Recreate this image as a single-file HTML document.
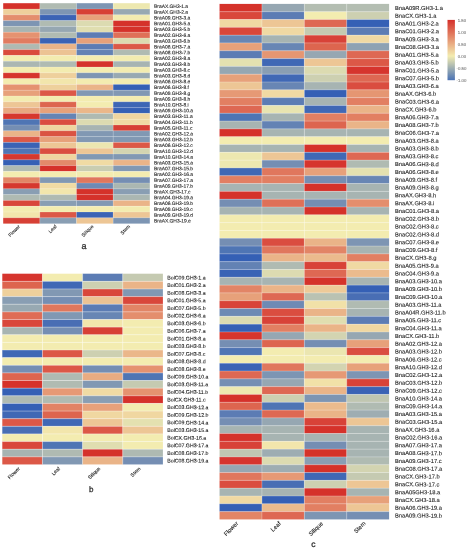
<!DOCTYPE html>
<html><head><meta charset="utf-8"><title>GH3 expression heatmaps</title>
<style>html,body{margin:0;padding:0;background:#fff}svg{display:block;font-family:"Liberation Sans",sans-serif;text-rendering:geometricPrecision}</style>
</head><body>
<svg width="470" height="550" viewBox="0 0 470 550">
<rect width="470" height="550" fill="#fff"/>
<defs><filter id="bl" x="-5%" y="-5%" width="110%" height="110%"><feGaussianBlur stdDeviation="0.35"/></filter></defs>
<g filter="url(#bl)">
<rect x="3.20" y="3.20" width="36.65" height="5.80" fill="#d5302a"/>
<rect x="39.85" y="3.20" width="36.65" height="5.80" fill="#b0bbb2"/>
<rect x="76.50" y="3.20" width="36.65" height="5.80" fill="#7d95b3"/>
<rect x="113.15" y="3.20" width="36.65" height="5.80" fill="#ede8b0"/>
<rect x="3.20" y="9.00" width="36.65" height="5.80" fill="#eed09c"/>
<rect x="39.85" y="9.00" width="36.65" height="5.80" fill="#7d95b3"/>
<rect x="76.50" y="9.00" width="36.65" height="5.80" fill="#d73f35"/>
<rect x="113.15" y="9.00" width="36.65" height="5.80" fill="#98a9b2"/>
<rect x="3.20" y="14.80" width="36.65" height="5.80" fill="#e48e6d"/>
<rect x="39.85" y="14.80" width="36.65" height="5.80" fill="#3b64b5"/>
<rect x="76.50" y="14.80" width="36.65" height="5.80" fill="#e7a17a"/>
<rect x="113.15" y="14.80" width="36.65" height="5.80" fill="#f3ecb0"/>
<rect x="3.20" y="20.60" width="36.65" height="5.80" fill="#7d95b3"/>
<rect x="39.85" y="20.60" width="36.65" height="5.80" fill="#b0bbb2"/>
<rect x="76.50" y="20.60" width="36.65" height="5.80" fill="#dcdbb1"/>
<rect x="113.15" y="20.60" width="36.65" height="5.80" fill="#d5302a"/>
<rect x="3.20" y="26.40" width="36.65" height="5.80" fill="#a7b4b2"/>
<rect x="39.85" y="26.40" width="36.65" height="5.80" fill="#96a7b2"/>
<rect x="76.50" y="26.40" width="36.65" height="5.80" fill="#e0deb0"/>
<rect x="113.15" y="26.40" width="36.65" height="5.80" fill="#d5302a"/>
<rect x="3.20" y="32.20" width="36.65" height="5.80" fill="#e59270"/>
<rect x="39.85" y="32.20" width="36.65" height="5.80" fill="#b0bbb2"/>
<rect x="76.50" y="32.20" width="36.65" height="5.80" fill="#5b7cb4"/>
<rect x="113.15" y="32.20" width="36.65" height="5.80" fill="#df7058"/>
<rect x="3.20" y="38.00" width="36.65" height="5.80" fill="#e17b60"/>
<rect x="39.85" y="38.00" width="36.65" height="5.80" fill="#3b64b5"/>
<rect x="76.50" y="38.00" width="36.65" height="5.80" fill="#e7a17a"/>
<rect x="113.15" y="38.00" width="36.65" height="5.80" fill="#dcdbb1"/>
<rect x="3.20" y="43.80" width="36.65" height="5.80" fill="#afbab2"/>
<rect x="39.85" y="43.80" width="36.65" height="5.80" fill="#eab488"/>
<rect x="76.50" y="43.80" width="36.65" height="5.80" fill="#5b7cb4"/>
<rect x="113.15" y="43.80" width="36.65" height="5.80" fill="#dc5947"/>
<rect x="3.20" y="49.60" width="36.65" height="5.80" fill="#da4c3e"/>
<rect x="39.85" y="49.60" width="36.65" height="5.80" fill="#ecc393"/>
<rect x="76.50" y="49.60" width="36.65" height="5.80" fill="#6382b4"/>
<rect x="113.15" y="49.60" width="36.65" height="5.80" fill="#b0bbb2"/>
<rect x="3.20" y="55.40" width="36.65" height="5.80" fill="#f3ecb0"/>
<rect x="39.85" y="55.40" width="36.65" height="5.80" fill="#f3ecb0"/>
<rect x="76.50" y="55.40" width="36.65" height="5.80" fill="#f3ecb0"/>
<rect x="113.15" y="55.40" width="36.65" height="5.80" fill="#f3ecb0"/>
<rect x="3.20" y="61.20" width="36.65" height="5.80" fill="#abb7b2"/>
<rect x="39.85" y="61.20" width="36.65" height="5.80" fill="#b0bbb2"/>
<rect x="76.50" y="61.20" width="36.65" height="5.80" fill="#d5302a"/>
<rect x="113.15" y="61.20" width="36.65" height="5.80" fill="#a7b4b2"/>
<rect x="3.20" y="67.00" width="36.65" height="5.80" fill="#f3ecb0"/>
<rect x="39.85" y="67.00" width="36.65" height="5.80" fill="#f3ecb0"/>
<rect x="76.50" y="67.00" width="36.65" height="5.80" fill="#f3ecb0"/>
<rect x="113.15" y="67.00" width="36.65" height="5.80" fill="#f3ecb0"/>
<rect x="3.20" y="72.80" width="36.65" height="5.80" fill="#d6342d"/>
<rect x="39.85" y="72.80" width="36.65" height="5.80" fill="#eed09c"/>
<rect x="76.50" y="72.80" width="36.65" height="5.80" fill="#7d95b3"/>
<rect x="113.15" y="72.80" width="36.65" height="5.80" fill="#98a9b2"/>
<rect x="3.20" y="78.60" width="36.65" height="5.80" fill="#f3ecb0"/>
<rect x="39.85" y="78.60" width="36.65" height="5.80" fill="#f2e6ac"/>
<rect x="76.50" y="78.60" width="36.65" height="5.80" fill="#f3ecb0"/>
<rect x="113.15" y="78.60" width="36.65" height="5.80" fill="#f3ecb0"/>
<rect x="3.20" y="84.40" width="36.65" height="5.80" fill="#e59270"/>
<rect x="39.85" y="84.40" width="36.65" height="5.80" fill="#eed09c"/>
<rect x="76.50" y="84.40" width="36.65" height="5.80" fill="#eab488"/>
<rect x="113.15" y="84.40" width="36.65" height="5.80" fill="#3560b5"/>
<rect x="3.20" y="90.20" width="36.65" height="5.80" fill="#e7a17a"/>
<rect x="39.85" y="90.20" width="36.65" height="5.80" fill="#dc5947"/>
<rect x="76.50" y="90.20" width="36.65" height="5.80" fill="#8198b3"/>
<rect x="113.15" y="90.20" width="36.65" height="5.80" fill="#8198b3"/>
<rect x="3.20" y="96.00" width="36.65" height="5.80" fill="#f3ecb0"/>
<rect x="39.85" y="96.00" width="36.65" height="5.80" fill="#f3ecb0"/>
<rect x="76.50" y="96.00" width="36.65" height="5.80" fill="#f3ecb0"/>
<rect x="113.15" y="96.00" width="36.65" height="5.80" fill="#f3ecb0"/>
<rect x="3.20" y="101.80" width="36.65" height="5.80" fill="#edc695"/>
<rect x="39.85" y="101.80" width="36.65" height="5.80" fill="#dd6550"/>
<rect x="76.50" y="101.80" width="36.65" height="5.80" fill="#f3ecb0"/>
<rect x="113.15" y="101.80" width="36.65" height="5.80" fill="#3d66b5"/>
<rect x="3.20" y="107.60" width="36.65" height="5.80" fill="#e8a880"/>
<rect x="39.85" y="107.60" width="36.65" height="5.80" fill="#e7a17a"/>
<rect x="76.50" y="107.60" width="36.65" height="5.80" fill="#ebb78a"/>
<rect x="113.15" y="107.60" width="36.65" height="5.80" fill="#3560b5"/>
<rect x="3.20" y="113.40" width="36.65" height="5.80" fill="#d6382f"/>
<rect x="39.85" y="113.40" width="36.65" height="5.80" fill="#6684b4"/>
<rect x="76.50" y="113.40" width="36.65" height="5.80" fill="#afbab2"/>
<rect x="113.15" y="113.40" width="36.65" height="5.80" fill="#efd5a0"/>
<rect x="3.20" y="119.20" width="36.65" height="5.80" fill="#5074b4"/>
<rect x="39.85" y="119.20" width="36.65" height="5.80" fill="#da4e3f"/>
<rect x="76.50" y="119.20" width="36.65" height="5.80" fill="#dcdbb1"/>
<rect x="113.15" y="119.20" width="36.65" height="5.80" fill="#f0dba4"/>
<rect x="3.20" y="125.00" width="36.65" height="5.80" fill="#748eb3"/>
<rect x="39.85" y="125.00" width="36.65" height="5.80" fill="#efd5a0"/>
<rect x="76.50" y="125.00" width="36.65" height="5.80" fill="#a7b4b2"/>
<rect x="113.15" y="125.00" width="36.65" height="5.80" fill="#d73f35"/>
<rect x="3.20" y="130.80" width="36.65" height="5.80" fill="#eab488"/>
<rect x="39.85" y="130.80" width="36.65" height="5.80" fill="#da5242"/>
<rect x="76.50" y="130.80" width="36.65" height="5.80" fill="#8198b3"/>
<rect x="113.15" y="130.80" width="36.65" height="5.80" fill="#8198b3"/>
<rect x="3.20" y="136.60" width="36.65" height="5.80" fill="#dc5947"/>
<rect x="39.85" y="136.60" width="36.65" height="5.80" fill="#e7a17a"/>
<rect x="76.50" y="136.60" width="36.65" height="5.80" fill="#8198b3"/>
<rect x="113.15" y="136.60" width="36.65" height="5.80" fill="#8198b3"/>
<rect x="3.20" y="142.40" width="36.65" height="5.80" fill="#3b64b5"/>
<rect x="39.85" y="142.40" width="36.65" height="5.80" fill="#edc695"/>
<rect x="76.50" y="142.40" width="36.65" height="5.80" fill="#ebe6b0"/>
<rect x="113.15" y="142.40" width="36.65" height="5.80" fill="#dc5947"/>
<rect x="3.20" y="148.20" width="36.65" height="5.80" fill="#5074b4"/>
<rect x="39.85" y="148.20" width="36.65" height="5.80" fill="#da4e3f"/>
<rect x="76.50" y="148.20" width="36.65" height="5.80" fill="#edc695"/>
<rect x="113.15" y="148.20" width="36.65" height="5.80" fill="#d3d4b1"/>
<rect x="3.20" y="154.00" width="36.65" height="5.80" fill="#d6382f"/>
<rect x="39.85" y="154.00" width="36.65" height="5.80" fill="#efd5a0"/>
<rect x="76.50" y="154.00" width="36.65" height="5.80" fill="#8198b3"/>
<rect x="113.15" y="154.00" width="36.65" height="5.80" fill="#8198b3"/>
<rect x="3.20" y="159.80" width="36.65" height="5.80" fill="#3560b5"/>
<rect x="39.85" y="159.80" width="36.65" height="5.80" fill="#e38a6a"/>
<rect x="76.50" y="159.80" width="36.65" height="5.80" fill="#f0dba4"/>
<rect x="113.15" y="159.80" width="36.65" height="5.80" fill="#eab488"/>
<rect x="3.20" y="165.60" width="36.65" height="5.80" fill="#afbab2"/>
<rect x="39.85" y="165.60" width="36.65" height="5.80" fill="#d5302a"/>
<rect x="76.50" y="165.60" width="36.65" height="5.80" fill="#c9cdb1"/>
<rect x="113.15" y="165.60" width="36.65" height="5.80" fill="#8198b3"/>
<rect x="3.20" y="171.40" width="36.65" height="5.80" fill="#f3ecb0"/>
<rect x="39.85" y="171.40" width="36.65" height="5.80" fill="#f3ecb0"/>
<rect x="76.50" y="171.40" width="36.65" height="5.80" fill="#f3ecb0"/>
<rect x="113.15" y="171.40" width="36.65" height="5.80" fill="#f3ecb0"/>
<rect x="3.20" y="177.20" width="36.65" height="5.80" fill="#e28566"/>
<rect x="39.85" y="177.20" width="36.65" height="5.80" fill="#8198b3"/>
<rect x="76.50" y="177.20" width="36.65" height="5.80" fill="#e0775d"/>
<rect x="113.15" y="177.20" width="36.65" height="5.80" fill="#748eb3"/>
<rect x="3.20" y="183.00" width="36.65" height="5.80" fill="#d6382f"/>
<rect x="39.85" y="183.00" width="36.65" height="5.80" fill="#f0dba4"/>
<rect x="76.50" y="183.00" width="36.65" height="5.80" fill="#6e8ab4"/>
<rect x="113.15" y="183.00" width="36.65" height="5.80" fill="#abb7b2"/>
<rect x="3.20" y="188.80" width="36.65" height="5.80" fill="#899eb3"/>
<rect x="39.85" y="188.80" width="36.65" height="5.80" fill="#f2e6ac"/>
<rect x="76.50" y="188.80" width="36.65" height="5.80" fill="#d5302a"/>
<rect x="113.15" y="188.80" width="36.65" height="5.80" fill="#899eb3"/>
<rect x="3.20" y="194.60" width="36.65" height="5.80" fill="#afbab2"/>
<rect x="39.85" y="194.60" width="36.65" height="5.80" fill="#afbab2"/>
<rect x="76.50" y="194.60" width="36.65" height="5.80" fill="#d5302a"/>
<rect x="113.15" y="194.60" width="36.65" height="5.80" fill="#abb7b2"/>
<rect x="3.20" y="200.40" width="36.65" height="5.80" fill="#d9473a"/>
<rect x="39.85" y="200.40" width="36.65" height="5.80" fill="#899eb3"/>
<rect x="76.50" y="200.40" width="36.65" height="5.80" fill="#8198b3"/>
<rect x="113.15" y="200.40" width="36.65" height="5.80" fill="#eab488"/>
<rect x="3.20" y="206.20" width="36.65" height="5.80" fill="#f3ecb0"/>
<rect x="39.85" y="206.20" width="36.65" height="5.80" fill="#f3ecb0"/>
<rect x="76.50" y="206.20" width="36.65" height="5.80" fill="#f3ecb0"/>
<rect x="113.15" y="206.20" width="36.65" height="5.80" fill="#f3ecb0"/>
<rect x="3.20" y="212.00" width="36.65" height="5.80" fill="#f2e6ac"/>
<rect x="39.85" y="212.00" width="36.65" height="5.80" fill="#dc5947"/>
<rect x="76.50" y="212.00" width="36.65" height="5.80" fill="#3b64b5"/>
<rect x="113.15" y="212.00" width="36.65" height="5.80" fill="#edc695"/>
<rect x="3.20" y="217.80" width="36.65" height="5.80" fill="#d73f35"/>
<rect x="39.85" y="217.80" width="36.65" height="5.80" fill="#899eb3"/>
<rect x="76.50" y="217.80" width="36.65" height="5.80" fill="#edc695"/>
<rect x="113.15" y="217.80" width="36.65" height="5.80" fill="#7d95b3"/>
<path d="M3.20 9.00h146.60M3.20 14.80h146.60M3.20 20.60h146.60M3.20 26.40h146.60M3.20 32.20h146.60M3.20 38.00h146.60M3.20 43.80h146.60M3.20 49.60h146.60M3.20 55.40h146.60M3.20 61.20h146.60M3.20 67.00h146.60M3.20 72.80h146.60M3.20 78.60h146.60M3.20 84.40h146.60M3.20 90.20h146.60M3.20 96.00h146.60M3.20 101.80h146.60M3.20 107.60h146.60M3.20 113.40h146.60M3.20 119.20h146.60M3.20 125.00h146.60M3.20 130.80h146.60M3.20 136.60h146.60M3.20 142.40h146.60M3.20 148.20h146.60M3.20 154.00h146.60M3.20 159.80h146.60M3.20 165.60h146.60M3.20 171.40h146.60M3.20 177.20h146.60M3.20 183.00h146.60M3.20 188.80h146.60M3.20 194.60h146.60M3.20 200.40h146.60M3.20 206.20h146.60M3.20 212.00h146.60M3.20 217.80h146.60M39.85 3.20v220.40M76.50 3.20v220.40M113.15 3.20v220.40" stroke="#fff" stroke-opacity="0.35" stroke-width="0.5" fill="none"/>
<g font-size="4.92" fill="#1c1c1c" stroke="#1c1c1c" stroke-width="0.1">
<text transform="translate(154.00 7.87) rotate(0.06)">BraAX.GH3-1.a</text>
<text transform="translate(154.00 13.67) rotate(0.06)">BraAX.GH3-2.a</text>
<text transform="translate(154.00 19.47) rotate(0.06)">BraA09.GH3-3.a</text>
<text transform="translate(154.00 25.27) rotate(0.06)">BraA01.GH3-5.a</text>
<text transform="translate(154.00 31.07) rotate(0.06)">BraA03.GH3-5.b</text>
<text transform="translate(154.00 36.87) rotate(0.06)">BraA02.GH3-6.a</text>
<text transform="translate(154.00 42.67) rotate(0.06)">BraA03.GH3-6.b</text>
<text transform="translate(154.00 48.47) rotate(0.06)">BraA06.GH3-7.a</text>
<text transform="translate(154.00 54.27) rotate(0.06)">BraA08.GH3-7.b</text>
<text transform="translate(154.00 60.07) rotate(0.06)">BraA02.GH3-8.a</text>
<text transform="translate(154.00 65.87) rotate(0.06)">BraA03.GH3-8.b</text>
<text transform="translate(154.00 71.67) rotate(0.06)">BraA03.GH3-8.c</text>
<text transform="translate(154.00 77.47) rotate(0.06)">BraA03.GH3-8.d</text>
<text transform="translate(154.00 83.27) rotate(0.06)">BraA06.GH3-8.e</text>
<text transform="translate(154.00 89.07) rotate(0.06)">BraA06.GH3-8.f</text>
<text transform="translate(154.00 94.87) rotate(0.06)">BraA09.GH3-8.g</text>
<text transform="translate(154.00 100.67) rotate(0.06)">BraA09.GH3-8.h</text>
<text transform="translate(154.00 106.47) rotate(0.06)">BraA10.GH3-8.i</text>
<text transform="translate(154.00 112.27) rotate(0.06)">BraA09.GH3-10.a</text>
<text transform="translate(154.00 118.07) rotate(0.06)">BraA03.GH3-11.a</text>
<text transform="translate(154.00 123.87) rotate(0.06)">BraA04.GH3-11.b</text>
<text transform="translate(154.00 129.67) rotate(0.06)">BraA05.GH3-11.c</text>
<text transform="translate(154.00 135.47) rotate(0.06)">BraA02.GH3-12.a</text>
<text transform="translate(154.00 141.27) rotate(0.06)">BraA03.GH3-12.b</text>
<text transform="translate(154.00 147.07) rotate(0.06)">BraA06.GH3-12.c</text>
<text transform="translate(154.00 152.87) rotate(0.06)">BraA10.GH3-12.d</text>
<text transform="translate(154.00 158.67) rotate(0.06)">BraA10.GH3-14.a</text>
<text transform="translate(154.00 164.47) rotate(0.06)">BraA03.GH3-15.a</text>
<text transform="translate(154.00 170.27) rotate(0.06)">BraA07.GH3-15.b</text>
<text transform="translate(154.00 176.07) rotate(0.06)">BraA02.GH3-16.a</text>
<text transform="translate(154.00 181.87) rotate(0.06)">BraA07.GH3-17.a</text>
<text transform="translate(154.00 187.67) rotate(0.06)">BraA09.GH3-17.b</text>
<text transform="translate(154.00 193.47) rotate(0.06)">BraAX.GH3-17.c</text>
<text transform="translate(154.00 199.27) rotate(0.06)">BraA04.GH3-19.a</text>
<text transform="translate(154.00 205.07) rotate(0.06)">BraA06.GH3-19.b</text>
<text transform="translate(154.00 210.87) rotate(0.06)">BraA09.GH3-19.c</text>
<text transform="translate(154.00 216.67) rotate(0.06)">BraA09.GH3-19.d</text>
<text transform="translate(154.00 222.47) rotate(0.06)">BraAX.GH3-19.e</text>
</g>
<g font-size="4.90" fill="#1c1c1c" stroke="#1c1c1c" stroke-width="0.1" text-anchor="end">
<text transform="translate(20.52 226.80) rotate(-45)">Flower</text>
<text transform="translate(57.17 226.80) rotate(-45)">Leaf</text>
<text transform="translate(93.83 226.80) rotate(-45)">Silique</text>
<text transform="translate(130.47 226.80) rotate(-45)">Stem</text>
</g>
<text x="84.00" y="249.10" font-size="9.0" fill="#333" stroke="#333" stroke-width="0.3" text-anchor="middle">a</text>
<rect x="2.30" y="273.70" width="40.15" height="7.63" fill="#d6342d"/>
<rect x="42.45" y="273.70" width="40.15" height="7.63" fill="#f3ecb0"/>
<rect x="82.60" y="273.70" width="40.15" height="7.63" fill="#5b7cb4"/>
<rect x="122.75" y="273.70" width="40.15" height="7.63" fill="#c5cab1"/>
<rect x="2.30" y="281.33" width="40.15" height="7.63" fill="#dd6550"/>
<rect x="42.45" y="281.33" width="40.15" height="7.63" fill="#4068b5"/>
<rect x="82.60" y="281.33" width="40.15" height="7.63" fill="#cdd0b1"/>
<rect x="122.75" y="281.33" width="40.15" height="7.63" fill="#eab488"/>
<rect x="2.30" y="288.96" width="40.15" height="7.63" fill="#eed09c"/>
<rect x="42.45" y="288.96" width="40.15" height="7.63" fill="#8198b3"/>
<rect x="82.60" y="288.96" width="40.15" height="7.63" fill="#d9473a"/>
<rect x="122.75" y="288.96" width="40.15" height="7.63" fill="#8198b3"/>
<rect x="2.30" y="296.59" width="40.15" height="7.63" fill="#899eb3"/>
<rect x="42.45" y="296.59" width="40.15" height="7.63" fill="#748eb3"/>
<rect x="82.60" y="296.59" width="40.15" height="7.63" fill="#ecc393"/>
<rect x="122.75" y="296.59" width="40.15" height="7.63" fill="#d9473a"/>
<rect x="2.30" y="304.22" width="40.15" height="7.63" fill="#98a9b2"/>
<rect x="42.45" y="304.22" width="40.15" height="7.63" fill="#e0775d"/>
<rect x="82.60" y="304.22" width="40.15" height="7.63" fill="#5b7cb4"/>
<rect x="122.75" y="304.22" width="40.15" height="7.63" fill="#e28566"/>
<rect x="2.30" y="311.85" width="40.15" height="7.63" fill="#df6c55"/>
<rect x="42.45" y="311.85" width="40.15" height="7.63" fill="#8198b3"/>
<rect x="82.60" y="311.85" width="40.15" height="7.63" fill="#6886b4"/>
<rect x="122.75" y="311.85" width="40.15" height="7.63" fill="#e48e6d"/>
<rect x="2.30" y="319.48" width="40.15" height="7.63" fill="#d9473a"/>
<rect x="42.45" y="319.48" width="40.15" height="7.63" fill="#486eb4"/>
<rect x="82.60" y="319.48" width="40.15" height="7.63" fill="#f2e6ac"/>
<rect x="122.75" y="319.48" width="40.15" height="7.63" fill="#f3ecb0"/>
<rect x="2.30" y="327.11" width="40.15" height="7.63" fill="#a7b4b2"/>
<rect x="42.45" y="327.11" width="40.15" height="7.63" fill="#748eb3"/>
<rect x="82.60" y="327.11" width="40.15" height="7.63" fill="#d73f35"/>
<rect x="122.75" y="327.11" width="40.15" height="7.63" fill="#f3ecb0"/>
<rect x="2.30" y="334.74" width="40.15" height="7.63" fill="#f3ecb0"/>
<rect x="42.45" y="334.74" width="40.15" height="7.63" fill="#f3ecb0"/>
<rect x="82.60" y="334.74" width="40.15" height="7.63" fill="#f3ecb0"/>
<rect x="122.75" y="334.74" width="40.15" height="7.63" fill="#f3ecb0"/>
<rect x="2.30" y="342.37" width="40.15" height="7.63" fill="#f3ecb0"/>
<rect x="42.45" y="342.37" width="40.15" height="7.63" fill="#f3ecb0"/>
<rect x="82.60" y="342.37" width="40.15" height="7.63" fill="#f3ecb0"/>
<rect x="122.75" y="342.37" width="40.15" height="7.63" fill="#f3ecb0"/>
<rect x="2.30" y="350.00" width="40.15" height="7.63" fill="#4068b5"/>
<rect x="42.45" y="350.00" width="40.15" height="7.63" fill="#dc5947"/>
<rect x="82.60" y="350.00" width="40.15" height="7.63" fill="#cdd0b1"/>
<rect x="122.75" y="350.00" width="40.15" height="7.63" fill="#ebb78a"/>
<rect x="2.30" y="357.63" width="40.15" height="7.63" fill="#f3ecb0"/>
<rect x="42.45" y="357.63" width="40.15" height="7.63" fill="#f3ecb0"/>
<rect x="82.60" y="357.63" width="40.15" height="7.63" fill="#f3ecb0"/>
<rect x="122.75" y="357.63" width="40.15" height="7.63" fill="#f3ecb0"/>
<rect x="2.30" y="365.26" width="40.15" height="7.63" fill="#748eb3"/>
<rect x="42.45" y="365.26" width="40.15" height="7.63" fill="#dc5947"/>
<rect x="82.60" y="365.26" width="40.15" height="7.63" fill="#748eb3"/>
<rect x="122.75" y="365.26" width="40.15" height="7.63" fill="#e59270"/>
<rect x="2.30" y="372.89" width="40.15" height="7.63" fill="#dd6550"/>
<rect x="42.45" y="372.89" width="40.15" height="7.63" fill="#afbab2"/>
<rect x="82.60" y="372.89" width="40.15" height="7.63" fill="#e9ac82"/>
<rect x="122.75" y="372.89" width="40.15" height="7.63" fill="#5074b4"/>
<rect x="2.30" y="380.52" width="40.15" height="7.63" fill="#d5302a"/>
<rect x="42.45" y="380.52" width="40.15" height="7.63" fill="#b0bbb2"/>
<rect x="82.60" y="380.52" width="40.15" height="7.63" fill="#8198b3"/>
<rect x="122.75" y="380.52" width="40.15" height="7.63" fill="#c5cab1"/>
<rect x="2.30" y="388.15" width="40.15" height="7.63" fill="#3560b5"/>
<rect x="42.45" y="388.15" width="40.15" height="7.63" fill="#e69975"/>
<rect x="82.60" y="388.15" width="40.15" height="7.63" fill="#f0dba4"/>
<rect x="122.75" y="388.15" width="40.15" height="7.63" fill="#e59270"/>
<rect x="2.30" y="395.78" width="40.15" height="7.63" fill="#b0bbb2"/>
<rect x="42.45" y="395.78" width="40.15" height="7.63" fill="#b0bbb2"/>
<rect x="82.60" y="395.78" width="40.15" height="7.63" fill="#899eb3"/>
<rect x="122.75" y="395.78" width="40.15" height="7.63" fill="#d5302a"/>
<rect x="2.30" y="403.41" width="40.15" height="7.63" fill="#3560b5"/>
<rect x="42.45" y="403.41" width="40.15" height="7.63" fill="#e28365"/>
<rect x="82.60" y="403.41" width="40.15" height="7.63" fill="#e7a17a"/>
<rect x="122.75" y="403.41" width="40.15" height="7.63" fill="#f3ecb0"/>
<rect x="2.30" y="411.04" width="40.15" height="7.63" fill="#4068b5"/>
<rect x="42.45" y="411.04" width="40.15" height="7.63" fill="#dd6550"/>
<rect x="82.60" y="411.04" width="40.15" height="7.63" fill="#f0d7a1"/>
<rect x="122.75" y="411.04" width="40.15" height="7.63" fill="#f0d7a1"/>
<rect x="2.30" y="418.67" width="40.15" height="7.63" fill="#dc5947"/>
<rect x="42.45" y="418.67" width="40.15" height="7.63" fill="#4068b5"/>
<rect x="82.60" y="418.67" width="40.15" height="7.63" fill="#edc695"/>
<rect x="122.75" y="418.67" width="40.15" height="7.63" fill="#e4e1b0"/>
<rect x="2.30" y="426.30" width="40.15" height="7.63" fill="#486eb4"/>
<rect x="42.45" y="426.30" width="40.15" height="7.63" fill="#f2e6ac"/>
<rect x="82.60" y="426.30" width="40.15" height="7.63" fill="#dc5947"/>
<rect x="122.75" y="426.30" width="40.15" height="7.63" fill="#edc695"/>
<rect x="2.30" y="433.93" width="40.15" height="7.63" fill="#f3ecb0"/>
<rect x="42.45" y="433.93" width="40.15" height="7.63" fill="#f3ecb0"/>
<rect x="82.60" y="433.93" width="40.15" height="7.63" fill="#f3ecb0"/>
<rect x="122.75" y="433.93" width="40.15" height="7.63" fill="#f3ecb0"/>
<rect x="2.30" y="441.56" width="40.15" height="7.63" fill="#d9473a"/>
<rect x="42.45" y="441.56" width="40.15" height="7.63" fill="#5074b4"/>
<rect x="82.60" y="441.56" width="40.15" height="7.63" fill="#e0deb0"/>
<rect x="122.75" y="441.56" width="40.15" height="7.63" fill="#f3ecb0"/>
<rect x="2.30" y="449.19" width="40.15" height="7.63" fill="#a7b4b2"/>
<rect x="42.45" y="449.19" width="40.15" height="7.63" fill="#afbab2"/>
<rect x="82.60" y="449.19" width="40.15" height="7.63" fill="#d5302a"/>
<rect x="122.75" y="449.19" width="40.15" height="7.63" fill="#afbab2"/>
<rect x="2.30" y="456.82" width="40.15" height="7.63" fill="#dc5947"/>
<rect x="42.45" y="456.82" width="40.15" height="7.63" fill="#8198b3"/>
<rect x="82.60" y="456.82" width="40.15" height="7.63" fill="#eab488"/>
<rect x="122.75" y="456.82" width="40.15" height="7.63" fill="#748eb3"/>
<path d="M2.30 281.33h160.60M2.30 288.96h160.60M2.30 296.59h160.60M2.30 304.22h160.60M2.30 311.85h160.60M2.30 319.48h160.60M2.30 327.11h160.60M2.30 334.74h160.60M2.30 342.37h160.60M2.30 350.00h160.60M2.30 357.63h160.60M2.30 365.26h160.60M2.30 372.89h160.60M2.30 380.52h160.60M2.30 388.15h160.60M2.30 395.78h160.60M2.30 403.41h160.60M2.30 411.04h160.60M2.30 418.67h160.60M2.30 426.30h160.60M2.30 433.93h160.60M2.30 441.56h160.60M2.30 449.19h160.60M2.30 456.82h160.60M42.45 273.70v190.75M82.60 273.70v190.75M122.75 273.70v190.75" stroke="#fff" stroke-opacity="0.70" stroke-width="0.5" fill="none"/>
<g font-size="5.22" fill="#1c1c1c" stroke="#1c1c1c" stroke-width="0.1">
<text transform="translate(167.30 279.39) rotate(0.06)">BolC09.GH3-1.a</text>
<text transform="translate(167.30 287.02) rotate(0.06)">BolC01.GH3-2.a</text>
<text transform="translate(167.30 294.65) rotate(0.06)">BolC08.GH3-3.a</text>
<text transform="translate(167.30 302.28) rotate(0.06)">BolC01.GH3-5.a</text>
<text transform="translate(167.30 309.91) rotate(0.06)">BolC07.GH3-5.b</text>
<text transform="translate(167.30 317.54) rotate(0.06)">BolC02.GH3-6.a</text>
<text transform="translate(167.30 325.17) rotate(0.06)">BolC03.GH3-6.b</text>
<text transform="translate(167.30 332.80) rotate(0.06)">BolC06.GH3-7.a</text>
<text transform="translate(167.30 340.43) rotate(0.06)">BolC01.GH3-8.a</text>
<text transform="translate(167.30 348.06) rotate(0.06)">BolC03.GH3-8.b</text>
<text transform="translate(167.30 355.69) rotate(0.06)">BolC07.GH3-8.c</text>
<text transform="translate(167.30 363.32) rotate(0.06)">BolC08.GH3-8.d</text>
<text transform="translate(167.30 370.95) rotate(0.06)">BolC08.GH3-8.e</text>
<text transform="translate(167.30 378.58) rotate(0.06)">BolC09.GH3-10.a</text>
<text transform="translate(167.30 386.21) rotate(0.06)">BolC03.GH3-11.a</text>
<text transform="translate(167.30 393.84) rotate(0.06)">BolC04.GH3-11.b</text>
<text transform="translate(167.30 401.47) rotate(0.06)">BolCX.GH3-11.c</text>
<text transform="translate(167.30 409.10) rotate(0.06)">BolC03.GH3-12.a</text>
<text transform="translate(167.30 416.73) rotate(0.06)">BolC09.GH3-12.b</text>
<text transform="translate(167.30 424.36) rotate(0.06)">BolC09.GH3-14.a</text>
<text transform="translate(167.30 431.99) rotate(0.06)">BolC03.GH3-15.a</text>
<text transform="translate(167.30 439.62) rotate(0.06)">BolCX.GH3-16.a</text>
<text transform="translate(167.30 447.25) rotate(0.06)">BolC07.GH3-17.a</text>
<text transform="translate(167.30 454.88) rotate(0.06)">BolC08.GH3-17.b</text>
<text transform="translate(167.30 462.51) rotate(0.06)">BolC08.GH3-19.a</text>
</g>
<g font-size="5.00" fill="#1c1c1c" stroke="#1c1c1c" stroke-width="0.1" text-anchor="end">
<text transform="translate(20.38 468.95) rotate(-45)">Flower</text>
<text transform="translate(60.52 468.95) rotate(-45)">Leaf</text>
<text transform="translate(100.67 468.95) rotate(-45)">Silique</text>
<text transform="translate(140.83 468.95) rotate(-45)">Stem</text>
</g>
<text x="91.20" y="492.00" font-size="8.0" fill="#333" stroke="#333" stroke-width="0.3" text-anchor="middle">b</text>
<rect x="219.55" y="3.90" width="42.39" height="7.81" fill="#d5302a"/>
<rect x="261.94" y="3.90" width="42.39" height="7.81" fill="#96a7b2"/>
<rect x="304.33" y="3.90" width="42.39" height="7.81" fill="#b4beb2"/>
<rect x="346.72" y="3.90" width="42.39" height="7.81" fill="#b4beb2"/>
<rect x="219.55" y="11.71" width="42.39" height="7.81" fill="#d9473a"/>
<rect x="261.94" y="11.71" width="42.39" height="7.81" fill="#5b7cb4"/>
<rect x="304.33" y="11.71" width="42.39" height="7.81" fill="#f3ecb0"/>
<rect x="346.72" y="11.71" width="42.39" height="7.81" fill="#cdd0b1"/>
<rect x="219.55" y="19.52" width="42.39" height="7.81" fill="#f0d9a3"/>
<rect x="261.94" y="19.52" width="42.39" height="7.81" fill="#edc695"/>
<rect x="304.33" y="19.52" width="42.39" height="7.81" fill="#de6852"/>
<rect x="346.72" y="19.52" width="42.39" height="7.81" fill="#3560b5"/>
<rect x="219.55" y="27.33" width="42.39" height="7.81" fill="#d9473a"/>
<rect x="261.94" y="27.33" width="42.39" height="7.81" fill="#f0d9a3"/>
<rect x="304.33" y="27.33" width="42.39" height="7.81" fill="#c5cab1"/>
<rect x="346.72" y="27.33" width="42.39" height="7.81" fill="#5b7cb4"/>
<rect x="219.55" y="35.14" width="42.39" height="7.81" fill="#6886b4"/>
<rect x="261.94" y="35.14" width="42.39" height="7.81" fill="#a7b4b2"/>
<rect x="304.33" y="35.14" width="42.39" height="7.81" fill="#d84337"/>
<rect x="346.72" y="35.14" width="42.39" height="7.81" fill="#f0d9a3"/>
<rect x="219.55" y="42.95" width="42.39" height="7.81" fill="#e7a17a"/>
<rect x="261.94" y="42.95" width="42.39" height="7.81" fill="#6886b4"/>
<rect x="304.33" y="42.95" width="42.39" height="7.81" fill="#dd6550"/>
<rect x="346.72" y="42.95" width="42.39" height="7.81" fill="#8ea2b3"/>
<rect x="219.55" y="50.77" width="42.39" height="7.81" fill="#5b7cb4"/>
<rect x="261.94" y="50.77" width="42.39" height="7.81" fill="#e59672"/>
<rect x="304.33" y="50.77" width="42.39" height="7.81" fill="#96a7b2"/>
<rect x="346.72" y="50.77" width="42.39" height="7.81" fill="#de6852"/>
<rect x="219.55" y="58.58" width="42.39" height="7.81" fill="#e4e1b0"/>
<rect x="261.94" y="58.58" width="42.39" height="7.81" fill="#4068b5"/>
<rect x="304.33" y="58.58" width="42.39" height="7.81" fill="#edc695"/>
<rect x="346.72" y="58.58" width="42.39" height="7.81" fill="#dc5947"/>
<rect x="219.55" y="66.39" width="42.39" height="7.81" fill="#96a7b2"/>
<rect x="261.94" y="66.39" width="42.39" height="7.81" fill="#899eb3"/>
<rect x="304.33" y="66.39" width="42.39" height="7.81" fill="#dcdbb1"/>
<rect x="346.72" y="66.39" width="42.39" height="7.81" fill="#d6342d"/>
<rect x="219.55" y="74.20" width="42.39" height="7.81" fill="#e7a17a"/>
<rect x="261.94" y="74.20" width="42.39" height="7.81" fill="#4068b5"/>
<rect x="304.33" y="74.20" width="42.39" height="7.81" fill="#cdd0b1"/>
<rect x="346.72" y="74.20" width="42.39" height="7.81" fill="#de6852"/>
<rect x="219.55" y="82.01" width="42.39" height="7.81" fill="#edc695"/>
<rect x="261.94" y="82.01" width="42.39" height="7.81" fill="#6886b4"/>
<rect x="304.33" y="82.01" width="42.39" height="7.81" fill="#a7b4b2"/>
<rect x="346.72" y="82.01" width="42.39" height="7.81" fill="#da4e3f"/>
<rect x="219.55" y="89.82" width="42.39" height="7.81" fill="#e69975"/>
<rect x="261.94" y="89.82" width="42.39" height="7.81" fill="#f0d9a3"/>
<rect x="304.33" y="89.82" width="42.39" height="7.81" fill="#3560b5"/>
<rect x="346.72" y="89.82" width="42.39" height="7.81" fill="#e59672"/>
<rect x="219.55" y="97.63" width="42.39" height="7.81" fill="#e27f62"/>
<rect x="261.94" y="97.63" width="42.39" height="7.81" fill="#5b7cb4"/>
<rect x="304.33" y="97.63" width="42.39" height="7.81" fill="#a7b4b2"/>
<rect x="346.72" y="97.63" width="42.39" height="7.81" fill="#e27f62"/>
<rect x="219.55" y="105.44" width="42.39" height="7.81" fill="#de6852"/>
<rect x="261.94" y="105.44" width="42.39" height="7.81" fill="#e8e4b0"/>
<rect x="304.33" y="105.44" width="42.39" height="7.81" fill="#4068b5"/>
<rect x="346.72" y="105.44" width="42.39" height="7.81" fill="#eab488"/>
<rect x="219.55" y="113.25" width="42.39" height="7.81" fill="#5074b4"/>
<rect x="261.94" y="113.25" width="42.39" height="7.81" fill="#a7b4b2"/>
<rect x="304.33" y="113.25" width="42.39" height="7.81" fill="#e27f62"/>
<rect x="346.72" y="113.25" width="42.39" height="7.81" fill="#e27f62"/>
<rect x="219.55" y="121.06" width="42.39" height="7.81" fill="#a7b4b2"/>
<rect x="261.94" y="121.06" width="42.39" height="7.81" fill="#6382b4"/>
<rect x="304.33" y="121.06" width="42.39" height="7.81" fill="#dd6550"/>
<rect x="346.72" y="121.06" width="42.39" height="7.81" fill="#eab488"/>
<rect x="219.55" y="128.88" width="42.39" height="7.81" fill="#d5302a"/>
<rect x="261.94" y="128.88" width="42.39" height="7.81" fill="#a7b4b2"/>
<rect x="304.33" y="128.88" width="42.39" height="7.81" fill="#a7b4b2"/>
<rect x="346.72" y="128.88" width="42.39" height="7.81" fill="#a7b4b2"/>
<rect x="219.55" y="136.69" width="42.39" height="7.81" fill="#f3ecb0"/>
<rect x="261.94" y="136.69" width="42.39" height="7.81" fill="#f3ecb0"/>
<rect x="304.33" y="136.69" width="42.39" height="7.81" fill="#f3ecb0"/>
<rect x="346.72" y="136.69" width="42.39" height="7.81" fill="#f3ecb0"/>
<rect x="219.55" y="144.50" width="42.39" height="7.81" fill="#a7b4b2"/>
<rect x="261.94" y="144.50" width="42.39" height="7.81" fill="#a7b4b2"/>
<rect x="304.33" y="144.50" width="42.39" height="7.81" fill="#d5302a"/>
<rect x="346.72" y="144.50" width="42.39" height="7.81" fill="#a7b4b2"/>
<rect x="219.55" y="152.31" width="42.39" height="7.81" fill="#ede8b0"/>
<rect x="261.94" y="152.31" width="42.39" height="7.81" fill="#edc695"/>
<rect x="304.33" y="152.31" width="42.39" height="7.81" fill="#4068b5"/>
<rect x="346.72" y="152.31" width="42.39" height="7.81" fill="#de6852"/>
<rect x="219.55" y="160.12" width="42.39" height="7.81" fill="#ede8b0"/>
<rect x="261.94" y="160.12" width="42.39" height="7.81" fill="#748eb3"/>
<rect x="304.33" y="160.12" width="42.39" height="7.81" fill="#d6342d"/>
<rect x="346.72" y="160.12" width="42.39" height="7.81" fill="#b0bbb2"/>
<rect x="219.55" y="167.93" width="42.39" height="7.81" fill="#4068b5"/>
<rect x="261.94" y="167.93" width="42.39" height="7.81" fill="#e0775d"/>
<rect x="304.33" y="167.93" width="42.39" height="7.81" fill="#e7a17a"/>
<rect x="346.72" y="167.93" width="42.39" height="7.81" fill="#e4e1b0"/>
<rect x="219.55" y="175.74" width="42.39" height="7.81" fill="#e27f62"/>
<rect x="261.94" y="175.74" width="42.39" height="7.81" fill="#e27f62"/>
<rect x="304.33" y="175.74" width="42.39" height="7.81" fill="#748eb3"/>
<rect x="346.72" y="175.74" width="42.39" height="7.81" fill="#6886b4"/>
<rect x="219.55" y="183.55" width="42.39" height="7.81" fill="#a7b4b2"/>
<rect x="261.94" y="183.55" width="42.39" height="7.81" fill="#a7b4b2"/>
<rect x="304.33" y="183.55" width="42.39" height="7.81" fill="#d5302a"/>
<rect x="346.72" y="183.55" width="42.39" height="7.81" fill="#a7b4b2"/>
<rect x="219.55" y="191.36" width="42.39" height="7.81" fill="#d5302a"/>
<rect x="261.94" y="191.36" width="42.39" height="7.81" fill="#a7b4b2"/>
<rect x="304.33" y="191.36" width="42.39" height="7.81" fill="#a7b4b2"/>
<rect x="346.72" y="191.36" width="42.39" height="7.81" fill="#a7b4b2"/>
<rect x="219.55" y="199.18" width="42.39" height="7.81" fill="#748eb3"/>
<rect x="261.94" y="199.18" width="42.39" height="7.81" fill="#df7058"/>
<rect x="304.33" y="199.18" width="42.39" height="7.81" fill="#748eb3"/>
<rect x="346.72" y="199.18" width="42.39" height="7.81" fill="#e48e6d"/>
<rect x="219.55" y="206.99" width="42.39" height="7.81" fill="#a7b4b2"/>
<rect x="261.94" y="206.99" width="42.39" height="7.81" fill="#a7b4b2"/>
<rect x="304.33" y="206.99" width="42.39" height="7.81" fill="#d5302a"/>
<rect x="346.72" y="206.99" width="42.39" height="7.81" fill="#a7b4b2"/>
<rect x="219.55" y="214.80" width="42.39" height="7.81" fill="#f3ecb0"/>
<rect x="261.94" y="214.80" width="42.39" height="7.81" fill="#f3ecb0"/>
<rect x="304.33" y="214.80" width="42.39" height="7.81" fill="#f3ecb0"/>
<rect x="346.72" y="214.80" width="42.39" height="7.81" fill="#f3ecb0"/>
<rect x="219.55" y="222.61" width="42.39" height="7.81" fill="#f3ecb0"/>
<rect x="261.94" y="222.61" width="42.39" height="7.81" fill="#f3ecb0"/>
<rect x="304.33" y="222.61" width="42.39" height="7.81" fill="#f3ecb0"/>
<rect x="346.72" y="222.61" width="42.39" height="7.81" fill="#f3ecb0"/>
<rect x="219.55" y="230.42" width="42.39" height="7.81" fill="#f3ecb0"/>
<rect x="261.94" y="230.42" width="42.39" height="7.81" fill="#f3ecb0"/>
<rect x="304.33" y="230.42" width="42.39" height="7.81" fill="#f3ecb0"/>
<rect x="346.72" y="230.42" width="42.39" height="7.81" fill="#f3ecb0"/>
<rect x="219.55" y="238.23" width="42.39" height="7.81" fill="#748eb3"/>
<rect x="261.94" y="238.23" width="42.39" height="7.81" fill="#da4e3f"/>
<rect x="304.33" y="238.23" width="42.39" height="7.81" fill="#eab488"/>
<rect x="346.72" y="238.23" width="42.39" height="7.81" fill="#7d95b3"/>
<rect x="219.55" y="246.04" width="42.39" height="7.81" fill="#5074b4"/>
<rect x="261.94" y="246.04" width="42.39" height="7.81" fill="#e0775d"/>
<rect x="304.33" y="246.04" width="42.39" height="7.81" fill="#e28566"/>
<rect x="346.72" y="246.04" width="42.39" height="7.81" fill="#a7b4b2"/>
<rect x="219.55" y="253.85" width="42.39" height="7.81" fill="#3560b5"/>
<rect x="261.94" y="253.85" width="42.39" height="7.81" fill="#eab488"/>
<rect x="304.33" y="253.85" width="42.39" height="7.81" fill="#ebbb8d"/>
<rect x="346.72" y="253.85" width="42.39" height="7.81" fill="#e27f62"/>
<rect x="219.55" y="261.66" width="42.39" height="7.81" fill="#6382b4"/>
<rect x="261.94" y="261.66" width="42.39" height="7.81" fill="#b0bbb2"/>
<rect x="304.33" y="261.66" width="42.39" height="7.81" fill="#d84337"/>
<rect x="346.72" y="261.66" width="42.39" height="7.81" fill="#f0d9a3"/>
<rect x="219.55" y="269.47" width="42.39" height="7.81" fill="#3963b5"/>
<rect x="261.94" y="269.47" width="42.39" height="7.81" fill="#dcdbb1"/>
<rect x="304.33" y="269.47" width="42.39" height="7.81" fill="#de6852"/>
<rect x="346.72" y="269.47" width="42.39" height="7.81" fill="#ebbb8d"/>
<rect x="219.55" y="277.28" width="42.39" height="7.81" fill="#a7b4b2"/>
<rect x="261.94" y="277.28" width="42.39" height="7.81" fill="#a7b4b2"/>
<rect x="304.33" y="277.28" width="42.39" height="7.81" fill="#d5302a"/>
<rect x="346.72" y="277.28" width="42.39" height="7.81" fill="#a7b4b2"/>
<rect x="219.55" y="285.10" width="42.39" height="7.81" fill="#e28566"/>
<rect x="261.94" y="285.10" width="42.39" height="7.81" fill="#eab488"/>
<rect x="304.33" y="285.10" width="42.39" height="7.81" fill="#eeca98"/>
<rect x="346.72" y="285.10" width="42.39" height="7.81" fill="#3560b5"/>
<rect x="219.55" y="292.91" width="42.39" height="7.81" fill="#e7a17a"/>
<rect x="261.94" y="292.91" width="42.39" height="7.81" fill="#de6852"/>
<rect x="304.33" y="292.91" width="42.39" height="7.81" fill="#bac2b2"/>
<rect x="346.72" y="292.91" width="42.39" height="7.81" fill="#486eb4"/>
<rect x="219.55" y="300.72" width="42.39" height="7.81" fill="#d84337"/>
<rect x="261.94" y="300.72" width="42.39" height="7.81" fill="#6e8ab4"/>
<rect x="304.33" y="300.72" width="42.39" height="7.81" fill="#f1e1a8"/>
<rect x="346.72" y="300.72" width="42.39" height="7.81" fill="#b0bbb2"/>
<rect x="219.55" y="308.53" width="42.39" height="7.81" fill="#6e8ab4"/>
<rect x="261.94" y="308.53" width="42.39" height="7.81" fill="#da4e3f"/>
<rect x="304.33" y="308.53" width="42.39" height="7.81" fill="#eab488"/>
<rect x="346.72" y="308.53" width="42.39" height="7.81" fill="#a7b4b2"/>
<rect x="219.55" y="316.34" width="42.39" height="7.81" fill="#dcdbb1"/>
<rect x="261.94" y="316.34" width="42.39" height="7.81" fill="#d84337"/>
<rect x="304.33" y="316.34" width="42.39" height="7.81" fill="#e0deb0"/>
<rect x="346.72" y="316.34" width="42.39" height="7.81" fill="#5b7cb4"/>
<rect x="219.55" y="324.15" width="42.39" height="7.81" fill="#3560b5"/>
<rect x="261.94" y="324.15" width="42.39" height="7.81" fill="#e27f62"/>
<rect x="304.33" y="324.15" width="42.39" height="7.81" fill="#eab488"/>
<rect x="346.72" y="324.15" width="42.39" height="7.81" fill="#f0d7a1"/>
<rect x="219.55" y="331.96" width="42.39" height="7.81" fill="#d6342d"/>
<rect x="261.94" y="331.96" width="42.39" height="7.81" fill="#96a7b2"/>
<rect x="304.33" y="331.96" width="42.39" height="7.81" fill="#d3d4b1"/>
<rect x="346.72" y="331.96" width="42.39" height="7.81" fill="#96a7b2"/>
<rect x="219.55" y="339.77" width="42.39" height="7.81" fill="#748eb3"/>
<rect x="261.94" y="339.77" width="42.39" height="7.81" fill="#dd6550"/>
<rect x="304.33" y="339.77" width="42.39" height="7.81" fill="#748eb3"/>
<rect x="346.72" y="339.77" width="42.39" height="7.81" fill="#e7a17a"/>
<rect x="219.55" y="347.58" width="42.39" height="7.81" fill="#5074b4"/>
<rect x="261.94" y="347.58" width="42.39" height="7.81" fill="#f3ecb0"/>
<rect x="304.33" y="347.58" width="42.39" height="7.81" fill="#ebe6b0"/>
<rect x="346.72" y="347.58" width="42.39" height="7.81" fill="#da4e3f"/>
<rect x="219.55" y="355.39" width="42.39" height="7.81" fill="#f3ecb0"/>
<rect x="261.94" y="355.39" width="42.39" height="7.81" fill="#f3ecb0"/>
<rect x="304.33" y="355.39" width="42.39" height="7.81" fill="#f3ecb0"/>
<rect x="346.72" y="355.39" width="42.39" height="7.81" fill="#f3ecb0"/>
<rect x="219.55" y="363.21" width="42.39" height="7.81" fill="#3b64b5"/>
<rect x="261.94" y="363.21" width="42.39" height="7.81" fill="#e0775d"/>
<rect x="304.33" y="363.21" width="42.39" height="7.81" fill="#d3d4b1"/>
<rect x="346.72" y="363.21" width="42.39" height="7.81" fill="#e7a17a"/>
<rect x="219.55" y="371.02" width="42.39" height="7.81" fill="#de6852"/>
<rect x="261.94" y="371.02" width="42.39" height="7.81" fill="#7d95b3"/>
<rect x="304.33" y="371.02" width="42.39" height="7.81" fill="#e69975"/>
<rect x="346.72" y="371.02" width="42.39" height="7.81" fill="#7d95b3"/>
<rect x="219.55" y="378.83" width="42.39" height="7.81" fill="#748eb3"/>
<rect x="261.94" y="378.83" width="42.39" height="7.81" fill="#96a7b2"/>
<rect x="304.33" y="378.83" width="42.39" height="7.81" fill="#f1e1a8"/>
<rect x="346.72" y="378.83" width="42.39" height="7.81" fill="#d84337"/>
<rect x="219.55" y="386.64" width="42.39" height="7.81" fill="#ede8b0"/>
<rect x="261.94" y="386.64" width="42.39" height="7.81" fill="#de6852"/>
<rect x="304.33" y="386.64" width="42.39" height="7.81" fill="#eab488"/>
<rect x="346.72" y="386.64" width="42.39" height="7.81" fill="#3b64b5"/>
<rect x="219.55" y="394.45" width="42.39" height="7.81" fill="#d5302a"/>
<rect x="261.94" y="394.45" width="42.39" height="7.81" fill="#cdd0b1"/>
<rect x="304.33" y="394.45" width="42.39" height="7.81" fill="#7d95b3"/>
<rect x="346.72" y="394.45" width="42.39" height="7.81" fill="#c0c6b1"/>
<rect x="219.55" y="402.26" width="42.39" height="7.81" fill="#dd6550"/>
<rect x="261.94" y="402.26" width="42.39" height="7.81" fill="#5074b4"/>
<rect x="304.33" y="402.26" width="42.39" height="7.81" fill="#ebbb8d"/>
<rect x="346.72" y="402.26" width="42.39" height="7.81" fill="#b0bbb2"/>
<rect x="219.55" y="410.07" width="42.39" height="7.81" fill="#5b7cb4"/>
<rect x="261.94" y="410.07" width="42.39" height="7.81" fill="#de6852"/>
<rect x="304.33" y="410.07" width="42.39" height="7.81" fill="#eab488"/>
<rect x="346.72" y="410.07" width="42.39" height="7.81" fill="#9eadb2"/>
<rect x="219.55" y="417.88" width="42.39" height="7.81" fill="#748eb3"/>
<rect x="261.94" y="417.88" width="42.39" height="7.81" fill="#96a7b2"/>
<rect x="304.33" y="417.88" width="42.39" height="7.81" fill="#d84337"/>
<rect x="346.72" y="417.88" width="42.39" height="7.81" fill="#edc695"/>
<rect x="219.55" y="425.69" width="42.39" height="7.81" fill="#a7b4b2"/>
<rect x="261.94" y="425.69" width="42.39" height="7.81" fill="#a7b4b2"/>
<rect x="304.33" y="425.69" width="42.39" height="7.81" fill="#d5302a"/>
<rect x="346.72" y="425.69" width="42.39" height="7.81" fill="#a7b4b2"/>
<rect x="219.55" y="433.50" width="42.39" height="7.81" fill="#d5302a"/>
<rect x="261.94" y="433.50" width="42.39" height="7.81" fill="#a7b4b2"/>
<rect x="304.33" y="433.50" width="42.39" height="7.81" fill="#a7b4b2"/>
<rect x="346.72" y="433.50" width="42.39" height="7.81" fill="#a7b4b2"/>
<rect x="219.55" y="441.32" width="42.39" height="7.81" fill="#d84337"/>
<rect x="261.94" y="441.32" width="42.39" height="7.81" fill="#f2e6ac"/>
<rect x="304.33" y="441.32" width="42.39" height="7.81" fill="#748eb3"/>
<rect x="346.72" y="441.32" width="42.39" height="7.81" fill="#a7b4b2"/>
<rect x="219.55" y="449.13" width="42.39" height="7.81" fill="#c0c6b1"/>
<rect x="261.94" y="449.13" width="42.39" height="7.81" fill="#9eadb2"/>
<rect x="304.33" y="449.13" width="42.39" height="7.81" fill="#d5302a"/>
<rect x="346.72" y="449.13" width="42.39" height="7.81" fill="#a7b4b2"/>
<rect x="219.55" y="456.94" width="42.39" height="7.81" fill="#d6342d"/>
<rect x="261.94" y="456.94" width="42.39" height="7.81" fill="#dcdbb1"/>
<rect x="304.33" y="456.94" width="42.39" height="7.81" fill="#899eb3"/>
<rect x="346.72" y="456.94" width="42.39" height="7.81" fill="#b0bbb2"/>
<rect x="219.55" y="464.75" width="42.39" height="7.81" fill="#96a7b2"/>
<rect x="261.94" y="464.75" width="42.39" height="7.81" fill="#9eadb2"/>
<rect x="304.33" y="464.75" width="42.39" height="7.81" fill="#d5302a"/>
<rect x="346.72" y="464.75" width="42.39" height="7.81" fill="#d3d4b1"/>
<rect x="219.55" y="472.56" width="42.39" height="7.81" fill="#e0775d"/>
<rect x="261.94" y="472.56" width="42.39" height="7.81" fill="#e69975"/>
<rect x="304.33" y="472.56" width="42.39" height="7.81" fill="#4068b5"/>
<rect x="346.72" y="472.56" width="42.39" height="7.81" fill="#c5cab1"/>
<rect x="219.55" y="480.37" width="42.39" height="7.81" fill="#da4e3f"/>
<rect x="261.94" y="480.37" width="42.39" height="7.81" fill="#486eb4"/>
<rect x="304.33" y="480.37" width="42.39" height="7.81" fill="#cdd0b1"/>
<rect x="346.72" y="480.37" width="42.39" height="7.81" fill="#edc695"/>
<rect x="219.55" y="488.18" width="42.39" height="7.81" fill="#a7b4b2"/>
<rect x="261.94" y="488.18" width="42.39" height="7.81" fill="#a7b4b2"/>
<rect x="304.33" y="488.18" width="42.39" height="7.81" fill="#d5302a"/>
<rect x="346.72" y="488.18" width="42.39" height="7.81" fill="#a7b4b2"/>
<rect x="219.55" y="495.99" width="42.39" height="7.81" fill="#f0d9a3"/>
<rect x="261.94" y="495.99" width="42.39" height="7.81" fill="#3560b5"/>
<rect x="304.33" y="495.99" width="42.39" height="7.81" fill="#e27f62"/>
<rect x="346.72" y="495.99" width="42.39" height="7.81" fill="#e7a17a"/>
<rect x="219.55" y="503.80" width="42.39" height="7.81" fill="#3560b5"/>
<rect x="261.94" y="503.80" width="42.39" height="7.81" fill="#ebbb8d"/>
<rect x="304.33" y="503.80" width="42.39" height="7.81" fill="#e27f62"/>
<rect x="346.72" y="503.80" width="42.39" height="7.81" fill="#edc695"/>
<rect x="219.55" y="511.61" width="42.39" height="7.81" fill="#e28566"/>
<rect x="261.94" y="511.61" width="42.39" height="7.81" fill="#de6852"/>
<rect x="304.33" y="511.61" width="42.39" height="7.81" fill="#7d95b3"/>
<rect x="346.72" y="511.61" width="42.39" height="7.81" fill="#748eb3"/>
<path d="M219.55 11.71h169.56M219.55 19.52h169.56M219.55 27.33h169.56M219.55 35.14h169.56M219.55 42.95h169.56M219.55 50.77h169.56M219.55 58.58h169.56M219.55 66.39h169.56M219.55 74.20h169.56M219.55 82.01h169.56M219.55 89.82h169.56M219.55 97.63h169.56M219.55 105.44h169.56M219.55 113.25h169.56M219.55 121.06h169.56M219.55 128.88h169.56M219.55 136.69h169.56M219.55 144.50h169.56M219.55 152.31h169.56M219.55 160.12h169.56M219.55 167.93h169.56M219.55 175.74h169.56M219.55 183.55h169.56M219.55 191.36h169.56M219.55 199.18h169.56M219.55 206.99h169.56M219.55 214.80h169.56M219.55 222.61h169.56M219.55 230.42h169.56M219.55 238.23h169.56M219.55 246.04h169.56M219.55 253.85h169.56M219.55 261.66h169.56M219.55 269.47h169.56M219.55 277.28h169.56M219.55 285.10h169.56M219.55 292.91h169.56M219.55 300.72h169.56M219.55 308.53h169.56M219.55 316.34h169.56M219.55 324.15h169.56M219.55 331.96h169.56M219.55 339.77h169.56M219.55 347.58h169.56M219.55 355.39h169.56M219.55 363.21h169.56M219.55 371.02h169.56M219.55 378.83h169.56M219.55 386.64h169.56M219.55 394.45h169.56M219.55 402.26h169.56M219.55 410.07h169.56M219.55 417.88h169.56M219.55 425.69h169.56M219.55 433.50h169.56M219.55 441.32h169.56M219.55 449.13h169.56M219.55 456.94h169.56M219.55 464.75h169.56M219.55 472.56h169.56M219.55 480.37h169.56M219.55 488.18h169.56M219.55 495.99h169.56M219.55 503.80h169.56M219.55 511.61h169.56M261.94 3.90v515.53M304.33 3.90v515.53M346.72 3.90v515.53" stroke="#fff" stroke-opacity="0.50" stroke-width="0.5" fill="none"/>
<g font-size="5.75" fill="#1c1c1c" stroke="#1c1c1c" stroke-width="0.1">
<text transform="translate(394.90 9.88) rotate(0.06)">BnaA09R.GH3-1.a</text>
<text transform="translate(394.90 17.69) rotate(0.06)">BnaCX.GH3-1.a</text>
<text transform="translate(394.90 25.50) rotate(0.06)">BnaA01.GH3-2.a</text>
<text transform="translate(394.90 33.31) rotate(0.06)">BnaC01.GH3-2.a</text>
<text transform="translate(394.90 41.12) rotate(0.06)">BnaA09.GH3-3.a</text>
<text transform="translate(394.90 48.93) rotate(0.06)">BnaC08.GH3-3.a</text>
<text transform="translate(394.90 56.74) rotate(0.06)">BnaA01.GH3-5.a</text>
<text transform="translate(394.90 64.55) rotate(0.06)">BnaA03.GH3-5.b</text>
<text transform="translate(394.90 72.36) rotate(0.06)">BnaC01.GH3-5.a</text>
<text transform="translate(394.90 80.17) rotate(0.06)">BnaC07.GH3-5.b</text>
<text transform="translate(394.90 87.99) rotate(0.06)">BnaA03.GH3-6.a</text>
<text transform="translate(394.90 95.80) rotate(0.06)">BnaAX.GH3-6.b</text>
<text transform="translate(394.90 103.61) rotate(0.06)">BnaC03.GH3-6.a</text>
<text transform="translate(394.90 111.42) rotate(0.06)">BnaCX.GH3-6.b</text>
<text transform="translate(394.90 119.23) rotate(0.06)">BnaA06.GH3-7.a</text>
<text transform="translate(394.90 127.04) rotate(0.06)">BnaA08.GH3-7.b</text>
<text transform="translate(394.90 134.85) rotate(0.06)">BnaC06.GH3-7.a</text>
<text transform="translate(394.90 142.66) rotate(0.06)">BnaA03.GH3-8.a</text>
<text transform="translate(394.90 150.47) rotate(0.06)">BnaA03.GH3-8.b</text>
<text transform="translate(394.90 158.28) rotate(0.06)">BnaA03.GH3-8.c</text>
<text transform="translate(394.90 166.10) rotate(0.06)">BnaA06.GH3-8.d</text>
<text transform="translate(394.90 173.91) rotate(0.06)">BnaA06.GH3-8.e</text>
<text transform="translate(394.90 181.72) rotate(0.06)">BnaA09.GH3-8.f</text>
<text transform="translate(394.90 189.53) rotate(0.06)">BnaA09.GH3-8.g</text>
<text transform="translate(394.90 197.34) rotate(0.06)">BnaAX.GH3-8.h</text>
<text transform="translate(394.90 205.15) rotate(0.06)">BnaAX.GH3-8.i</text>
<text transform="translate(394.90 212.96) rotate(0.06)">BnaC01.GH3-8.a</text>
<text transform="translate(394.90 220.77) rotate(0.06)">BnaC02.GH3-8.b</text>
<text transform="translate(394.90 228.58) rotate(0.06)">BnaC02.GH3-8.c</text>
<text transform="translate(394.90 236.39) rotate(0.06)">BnaC02.GH3-8.d</text>
<text transform="translate(394.90 244.21) rotate(0.06)">BnaC07.GH3-8.e</text>
<text transform="translate(394.90 252.02) rotate(0.06)">BnaC09.GH3-8.f</text>
<text transform="translate(394.90 259.83) rotate(0.06)">BnaCX.GH3-8.g</text>
<text transform="translate(394.90 267.64) rotate(0.06)">BnaA05.GH3-9.a</text>
<text transform="translate(394.90 275.45) rotate(0.06)">BnaC04.GH3-9.a</text>
<text transform="translate(394.90 283.26) rotate(0.06)">BnaA03.GH3-10.a</text>
<text transform="translate(394.90 291.07) rotate(0.06)">BnaA09.GH3-10.b</text>
<text transform="translate(394.90 298.88) rotate(0.06)">BnaC09.GH3-10.a</text>
<text transform="translate(394.90 306.69) rotate(0.06)">BnaA03.GH3-11.a</text>
<text transform="translate(394.90 314.50) rotate(0.06)">BnaA04R.GH3-11.b</text>
<text transform="translate(394.90 322.32) rotate(0.06)">BnaA05.GH3-11.c</text>
<text transform="translate(394.90 330.13) rotate(0.06)">BnaC04.GH3-11.a</text>
<text transform="translate(394.90 337.94) rotate(0.06)">BnaCX.GH3-11.b</text>
<text transform="translate(394.90 345.75) rotate(0.06)">BnaA02.GH3-12.a</text>
<text transform="translate(394.90 353.56) rotate(0.06)">BnaA03.GH3-12.b</text>
<text transform="translate(394.90 361.37) rotate(0.06)">BnaA06.GH3-12.c</text>
<text transform="translate(394.90 369.18) rotate(0.06)">BnaA10.GH3-12.d</text>
<text transform="translate(394.90 376.99) rotate(0.06)">BnaC02.GH3-12.a</text>
<text transform="translate(394.90 384.80) rotate(0.06)">BnaC03.GH3-12.b</text>
<text transform="translate(394.90 392.61) rotate(0.06)">BnaC09.GH3-12.c</text>
<text transform="translate(394.90 400.43) rotate(0.06)">BnaA10.GH3-14.a</text>
<text transform="translate(394.90 408.24) rotate(0.06)">BnaC09.GH3-14.a</text>
<text transform="translate(394.90 416.05) rotate(0.06)">BnaA03.GH3-15.a</text>
<text transform="translate(394.90 423.86) rotate(0.06)">BnaC03.GH3-15.a</text>
<text transform="translate(394.90 431.67) rotate(0.06)">BnaAX.GH3-16.a</text>
<text transform="translate(394.90 439.48) rotate(0.06)">BnaC02.GH3-16.a</text>
<text transform="translate(394.90 447.29) rotate(0.06)">BnaA07.GH3-17.a</text>
<text transform="translate(394.90 455.10) rotate(0.06)">BnaA08.GH3-17.b</text>
<text transform="translate(394.90 462.91) rotate(0.06)">BnaA09.GH3-17.c</text>
<text transform="translate(394.90 470.72) rotate(0.06)">BnaC08.GH3-17.a</text>
<text transform="translate(394.90 478.54) rotate(0.06)">BnaCX.GH3-17.b</text>
<text transform="translate(394.90 486.35) rotate(0.06)">BnaCX.GH3-17.c</text>
<text transform="translate(394.90 494.16) rotate(0.06)">BnaA05GH3-18.a</text>
<text transform="translate(394.90 501.97) rotate(0.06)">BnaCX.GH3-18.a</text>
<text transform="translate(394.90 509.78) rotate(0.06)">BnaA06.GH3-19.a</text>
<text transform="translate(394.90 517.59) rotate(0.06)">BnaA09.GH3-19.b</text>
</g>
<g font-size="5.85" fill="#1c1c1c" stroke="#1c1c1c" stroke-width="0.1" text-anchor="end">
<text transform="translate(238.75 523.93) rotate(-45)">Flower</text>
<text transform="translate(281.13 523.93) rotate(-45)">Leaf</text>
<text transform="translate(323.52 523.93) rotate(-45)">Silique</text>
<text transform="translate(365.92 523.93) rotate(-45)">Stem</text>
</g>
<text x="313.40" y="547.00" font-size="8.5" fill="#333" stroke="#333" stroke-width="0.3" text-anchor="middle">c</text>
<defs><linearGradient id="cb" x1="0" y1="0" x2="0" y2="1"><stop offset="0" stop-color="#d5302a"/><stop offset="0.6" stop-color="#f3ecb0"/><stop offset="1" stop-color="#4a72b5"/></linearGradient></defs>
<rect x="447.5" y="19.9" width="7.4" height="60.3" fill="url(#cb)"/>
<g font-size="4.3" fill="#7a7a7a" stroke="#7a7a7a" stroke-width="0.1">
<text x="457.70" y="21.75">1.50</text>
<text x="457.70" y="33.81">1.00</text>
<text x="457.70" y="45.87">0.50</text>
<text x="457.70" y="57.93">0.00</text>
<text x="456.60" y="69.99">-0.50</text>
<text x="456.60" y="82.05">-1.00</text>
</g>
</g>
</svg>
</body></html>
